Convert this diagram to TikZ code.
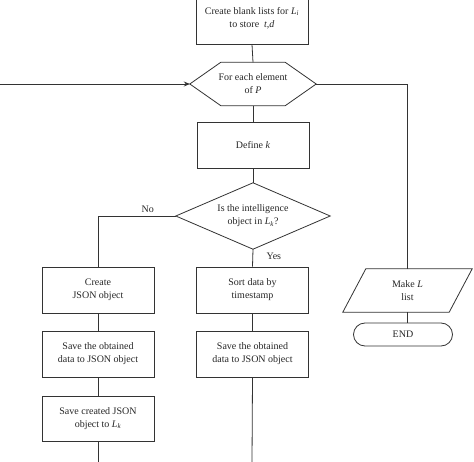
\documentclass[tikz,border=0pt]{standalone}
\usepackage{fontspec}
\setmainfont{Liberation Serif}
\usetikzlibrary{arrows.meta,shapes.misc}
\begin{document}
\begin{tikzpicture}[x=1pt,y=-1pt,
  every node/.style={font=\fontsize{10}{13}\selectfont, align=center, text=black!85},
  line/.style={draw=black!80, line width=0.8pt},
  procbox/.style={line, rectangle, minimum width=112, minimum height=46, inner sep=0},
  frame/.style={rectangle, minimum width=#1, inner sep=0},
]
\useasboundingbox (0,0) rectangle (474,462);
\clip (0,0) rectangle (474,462);
\fill[white] (0,0) rectangle (474,462);

% nodes
\node[procbox, minimum height=52] (top) at (252,18) {Create blank lists for \textit{L}\textsubscript{\textit{i}}\\to store~~\textit{t,d}};
\node[frame=126, minimum height=43] (hex) at (253,84) {For each element\\of \textit{P}};
\node[procbox] (def) at (253,145) {Define \textit{k}};
\node[frame=154, minimum height=66] (dia) at (253,216) {Is the intelligence\\object in \textit{L}\textsubscript{\textit{k}}?};
\node[procbox] (l1) at (98,290) {Create\\JSON object};
\node[procbox] (m1) at (252.5,290) {Sort data by\\timestamp};
\node[procbox] (l2) at (98,354) {Save the obtained\\data to JSON object};
\node[procbox] (m2) at (252.5,354) {Save the obtained\\data to JSON object};
\node[procbox, minimum height=45] (l3) at (98,418.5) {Save created JSON\\object to \textit{L}\textsubscript{\textit{k}}};
\node[frame=129, minimum height=43] (par) at (407.5,290.5) {Make \textit{L}\\list};
\node[line, rounded rectangle, minimum width=99, minimum height=23, inner sep=0] (endn) at (403,334.5) {END};

% shapes drawn around frames
\draw[line] (hex.west) -- ([xshift=31]hex.north west) -- ([xshift=-31]hex.north east)
  -- (hex.east) -- ([xshift=-31]hex.south east) -- ([xshift=31]hex.south west) -- cycle;
\draw[line] (dia.north) -- (dia.east) -- (dia.south) -- (dia.west) -- cycle;
\draw[line] (par.south west) -- ([xshift=23]par.north west) -- (par.north east)
  -- ([xshift=-23]par.south east) -- cycle;

% free ends
\coordinate (loopin) at (0,84);
\coordinate (lend) at (98,462);
\coordinate (mend) at (252,462);

% connectors
\draw[line] (top.south) -- (hex.north);
\draw[line, -{Stealth[length=6pt,width=5pt]}] (loopin) -- (hex.west);
\draw[line] (hex.south) -- (def.north);
\draw[line] (def.south) -- (dia.north);
\draw[line] (dia.west) -| node[pos=0.18, above] {No} (l1.north);
\draw[line] (dia.south) -- node[pos=0.38, right, xshift=10] {Yes} (m1.north);
\draw[line] (l1.south) -- (l2.north);
\draw[line] (l2.south) -- (l3.north);
\draw[line] (l3.south) -- (lend);
\draw[line] (m1.south) -- (m2.north);
\draw[line] (m2.south) -- (mend);
\draw[line] (hex.east) -| (par.north);
\draw[line] (par.south) -- (par.south |- endn.north);
\end{tikzpicture}
\end{document}
